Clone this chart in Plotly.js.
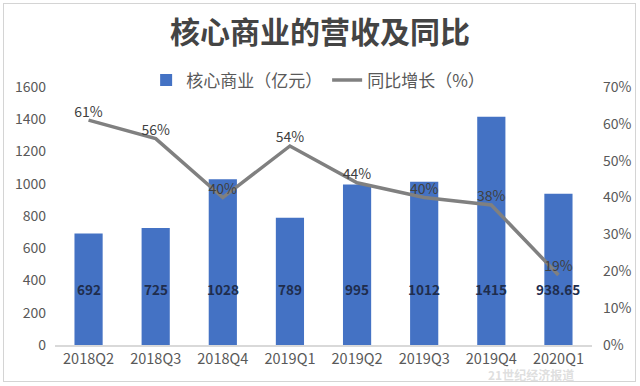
<!DOCTYPE html>
<html><head><meta charset="utf-8">
<script src="https://cdn.plot.ly/plotly-3.0.1.min.js"></script>
<style>
html,body{margin:0;padding:0;background:#fff;}
#wrap{position:relative;width:640px;height:386px;}
#chart{width:640px;height:386px;}
#frame{position:absolute;left:3px;top:3px;width:631px;height:377px;border:1.5px solid #d4d4d4;pointer-events:none;}
</style></head>
<body>
<div id="wrap"><div id="chart"></div><div id="frame"></div></div>
<script>
const categories = ['2018Q2','2018Q3','2018Q4','2019Q1','2019Q2','2019Q3','2019Q4','2020Q1'];
const revenue = [692, 725, 1028, 789, 995, 1012, 1415, 938.65];
const growth = [0.61, 0.56, 0.40, 0.54, 0.44, 0.40, 0.38, 0.19];
const growthLabels = ['61%','56%','40%','54%','44%','40%','38%','19%'];
const revenueLabels = ['692','725','1028','789','995','1012','1415','938.65'];

const fontFam = '"Noto Sans CJK SC","Noto Sans",sans-serif';
const labelLevel = 345; // height (left-axis units) where bar value labels sit

const bars = {
  type:'bar', name:'核心商业（亿元）', x:categories, y:revenue,
  marker:{color:'#4472C4'}, width:0.42, hoverinfo:'skip'
};
const line = {
  type:'scatter', mode:'lines+text', name:'同比增长（%）', x:categories, y:growth,
  yaxis:'y2', line:{color:'#808080', width:3.5},
  text:growthLabels, textposition:'top center',
  textfont:{color:'#404040', size:14, family:fontFam}, cliponaxis:false
};

const barAnnotations = categories.map((c, i) => ({
  x:c, y:labelLevel, xref:'x', yref:'y', text:revenueLabels[i], showarrow:false,
  xanchor:'center', yanchor:'middle',
  font:{color:'#1f2d4d', size:13.5, family:fontFam, weight:'bold'}
}));

const layout = {
  width:640, height:386,
  margin:{l:55, r:48, t:87, b:41},
  paper_bgcolor:'#fff', plot_bgcolor:'rgba(0,0,0,0)',
  font:{family:fontFam, color:'#595959'},
  title:{text:'<b>核心商业的营收及同比</b>', x:0.5, xanchor:'center', y:0.916, yanchor:'middle',
         font:{size:30, color:'#444444', family:fontFam}},
  showlegend:true,
  legend:{orientation:'h', x:0.49, xanchor:'center', y:1.025, yanchor:'middle',
          font:{size:17, color:'#595959', family:fontFam}, bgcolor:'rgba(0,0,0,0)'},
  xaxis:{type:'category', showline:true, linecolor:'#d9d9d9', linewidth:1.5, ticks:'',
         tickfont:{size:14.5, color:'#595959'}, showgrid:false, zeroline:false},
  yaxis:{range:[0,1600], dtick:200, showgrid:false, zeroline:false, showline:false,
         tickfont:{size:14, color:'#595959'}, ticklabelstandoff:8},
  yaxis2:{range:[0,0.7], dtick:0.1, tickformat:'.0%', overlaying:'y', side:'right',
          showgrid:false, zeroline:false, showline:false,
          tickfont:{size:14, color:'#595959'}, ticklabelstandoff:10},
  annotations:barAnnotations.concat([{text:'21世纪经济报道', xref:'paper', yref:'paper', x:0.97, y:-0.115, yanchor:'middle',
                showarrow:false, font:{size:12, color:'rgba(205,205,205,0.65)', family:fontFam, weight:'bold'}}])
};
Plotly.newPlot('chart', [bars, line], layout, {displayModeBar:false, staticPlot:true});
</script>
</body></html>
